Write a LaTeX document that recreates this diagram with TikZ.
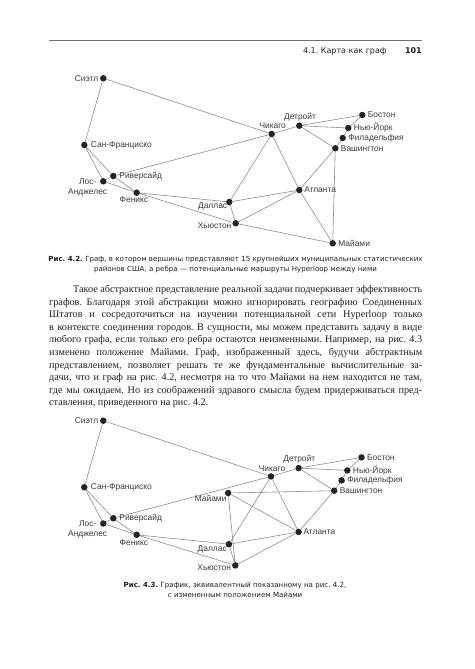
\documentclass[tikz,border=0pt]{standalone}
\usepackage{fontspec}
\setmainfont{Liberation Serif}
\setsansfont{Liberation Sans}
\newfontfamily\capfont{DejaVu Sans}
\usepackage{xcolor}
\definecolor{EdgeGrey}{HTML}{8C8C8C}
\definecolor{DotBlack}{HTML}{232323}
\definecolor{LabelInk}{HTML}{3A3A3A}
\definecolor{PageInk}{HTML}{1E1E1E}
\usetikzlibrary{positioning, backgrounds}
\frenchspacing
\tikzstyle{city} = [circle, fill=DotBlack, inner sep=0pt, minimum size=6.5pt]
\tikzstyle{cityname} = [font=\sffamily\fontsize{8.4}{9.4}\selectfont, text=LabelInk, inner sep=0.5pt]
\tikzstyle{edge} = [draw=EdgeGrey, line width=0.6pt]
\tikzstyle{caption} = [font=\capfont\fontsize{7.05}{9.6}\selectfont, text=PageInk, text width=420pt, align=center, inner sep=0pt]
\tikzstyle{para} = [font=\fontsize{10.2}{12.6}\selectfont, text=PageInk, text width=373pt, align=justify, inner sep=0pt]
\tikzstyle{runhead} = [font=\capfont\fontsize{8}{9}\selectfont, text=PageInk, inner sep=0pt]

\begin{document}
\begin{tikzpicture}[x=1pt, y=-1pt]
    \useasboundingbox (0,0) rectangle (474,669);

    % running head
    \draw [EdgeGrey!80!black, line width=0.7pt] (49,40) coordinate (ruleL) -- (422,40) coordinate (ruleR);
    \node [runhead, anchor=base east] (pageno) at (422,53.5) {\bfseries 101};
    \node [runhead, anchor=base east] (section) at (387,53.5) {4.1. Карта как граф};

    % figure 4.2
    \node [city] (sea1) at (103.3,78.3) {};
    \node [city] (sfo1) at (84.3,145) {};
    \node [city] (riv1) at (113.3,176) {};
    \node [city] (lax1) at (103.3,181.3) {};
    \node [city] (phx1) at (136.7,192.7) {};
    \node [city] (dal1) at (229.3,202) {};
    \node [city] (hou1) at (235.7,223.3) {};
    \node [city] (chi1) at (271.7,134) {};
    \node [city] (det1) at (299.3,125.7) {};
    \node [city] (bos1) at (362.3,115) {};
    \node [city] (nyc1) at (348.3,128) {};
    \node [city] (phl1) at (342.7,138) {};
    \node [city] (was1) at (335.3,148.3) {};
    \node [city] (atl1) at (299.3,190) {};
    \node [city] (mia1) at (332.7,243.3) {};

    \node [cityname, left=0.8pt of sea1] (sea1txt) {Сиэтл};
    \node [cityname, right=2.5pt of sfo1] (sfo1txt) {Сан-Франциско};
    \node [cityname, right=2pt of riv1] (riv1txt) {Риверсайд};
    \node [cityname, align=center] (lax1txt) at (87.7,187.3) {Лос-\\Анджелес};
    \node [cityname, below=0.3pt of phx1, xshift=-2.8pt] (phx1txt) {Феникс};
    \node [cityname, below left=-2pt and -1pt of dal1] (dal1txt) {Даллас};
    \node [cityname, left=0.2pt of hou1, yshift=-2.7pt] (hou1txt) {Хьюстон};
    \node [cityname, above=0.8pt of chi1, xshift=1pt] (chi1txt) {Чикаго};
    \node [cityname, above=0.8pt of det1, xshift=0.7pt] (det1txt) {Детройт};
    \node [cityname, right=1.5pt of bos1] (bos1txt) {Бостон};
    \node [cityname, right=1.5pt of nyc1] (nyc1txt) {Нью-Йорк};
    \node [cityname, right=1.5pt of phl1] (phl1txt) {Филадельфия};
    \node [cityname, right=1.5pt of was1] (was1txt) {Вашингтон};
    \node [cityname, right=0.8pt of atl1] (atl1txt) {Атланта};
    \node [cityname, right=1.5pt of mia1] (mia1txt) {Майами};

    \begin{scope}[on background layer]
        \draw [edge] (sea1) -- (chi1) (sea1) -- (sfo1) (sfo1) -- (riv1) (sfo1) -- (lax1)
            (lax1) -- (riv1) (lax1) -- (phx1) (riv1) -- (phx1) (riv1) -- (chi1)
            (phx1) -- (dal1) (phx1) -- (hou1) (dal1) -- (chi1) (dal1) -- (atl1)
            (dal1) -- (hou1) (hou1) -- (atl1) (hou1) -- (mia1) (atl1) -- (chi1)
            (atl1) -- (was1) (atl1) -- (mia1) (mia1) -- (was1) (chi1) -- (det1)
            (det1) -- (bos1) (det1) -- (was1) (det1) -- (nyc1) (bos1) -- (nyc1)
            (nyc1) -- (phl1) (phl1) -- (was1);
    \end{scope}

    \node [caption, anchor=base] (cap1) at (235.5,261.5) {\textbf{Рис. 4.2.} Граф, в котором вершины представляют 15 крупнейших муниципальных статистических\\районов США, а ребра — потенциальные маршруты Hyperloop между ними};

    % body text
    \node [para, anchor=base west] (body) at (49,292.5) {\hspace*{24pt}Такое абстрактное представление реальной задачи подчеркивает эффективность\linebreak
        графов. Благодаря этой абстракции можно игнорировать географию Соединенных\linebreak
        Штатов и сосредоточиться на изучении потенциальной сети Hyperloop только\linebreak
        в контексте соединения городов. В сущности, мы можем представить задачу в виде\linebreak
        любого графа, если только его ребра остаются неизменными. Например, на рис.~4.3\linebreak
        изменено положение Майами. Граф, изображенный здесь, будучи абстрактным\linebreak
        представлением, позволяет решать те же фундаментальные вычислительные за-\linebreak
        дачи, что и граф на рис.~4.2, несмотря на то что Майами на нем находится не там,\linebreak
        где мы ожидаем. Но из соображений здравого смысла будем придерживаться пред-\linebreak
        ставления, приведенного на рис.~4.2.};

    % figure 4.3
    \node [city] (sea2) at (103.3,420.7) {};
    \node [city] (sfo2) at (84.3,487.3) {};
    \node [city] (riv2) at (113.3,518.3) {};
    \node [city] (lax2) at (103.3,523.5) {};
    \node [city] (phx2) at (136.7,534.8) {};
    \node [city] (dal2) at (228.9,544.2) {};
    \node [city] (hou2) at (235.3,565.4) {};
    \node [city] (chi2) at (271,476.4) {};
    \node [city] (det2) at (298.6,468.1) {};
    \node [city] (bos2) at (361.5,457.4) {};
    \node [city] (nyc2) at (347.3,470.4) {};
    \node [city] (phl2) at (341.6,480.4) {};
    \node [city] (was2) at (334.2,490.7) {};
    \node [city] (atl2) at (298.6,531.9) {};
    \node [city] (mia2) at (228.1,493) {};

    \node [cityname, left=0.8pt of sea2] (sea2txt) {Сиэтл};
    \node [cityname, right=2.5pt of sfo2] (sfo2txt) {Сан-Франциско};
    \node [cityname, right=2pt of riv2] (riv2txt) {Риверсайд};
    \node [cityname, align=center] (lax2txt) at (87.7,529.5) {Лос-\\Анджелес};
    \node [cityname, below=0.3pt of phx2, xshift=-2.8pt] (phx2txt) {Феникс};
    \node [cityname, below left=-2pt and -1pt of dal2] (dal2txt) {Даллас};
    \node [cityname, left=0.2pt of hou2, yshift=-2.7pt] (hou2txt) {Хьюстон};
    \node [cityname, above=0.8pt of chi2, xshift=1pt] (chi2txt) {Чикаго};
    \node [cityname, above=0.8pt of det2, xshift=0.7pt] (det2txt) {Детройт};
    \node [cityname, right=1.5pt of bos2] (bos2txt) {Бостон};
    \node [cityname, right=1.5pt of nyc2] (nyc2txt) {Нью-Йорк};
    \node [cityname, right=1.5pt of phl2] (phl2txt) {Филадельфия};
    \node [cityname, right=1.5pt of was2] (was2txt) {Вашингтон};
    \node [cityname, right=0.8pt of atl2] (atl2txt) {Атланта};
    \node [cityname, below left=-0.5pt and -1.5pt of mia2] (mia2txt) {Майами};

    \begin{scope}[on background layer]
        \draw [edge] (sea2) -- (chi2) (sea2) -- (sfo2) (sfo2) -- (riv2) (sfo2) -- (lax2)
            (lax2) -- (riv2) (lax2) -- (phx2) (riv2) -- (phx2) (riv2) -- (chi2)
            (phx2) -- (dal2) (phx2) -- (hou2) (dal2) -- (chi2) (dal2) -- (atl2)
            (dal2) -- (hou2) (hou2) -- (atl2) (hou2) -- (mia2) (atl2) -- (chi2)
            (atl2) -- (was2) (atl2) -- (mia2) (mia2) -- (was2) (chi2) -- (det2)
            (det2) -- (bos2) (det2) -- (was2) (det2) -- (nyc2) (bos2) -- (nyc2)
            (nyc2) -- (phl2) (phl2) -- (was2);
    \end{scope}

    \node [caption, anchor=base] (cap2) at (235,587.5) {\textbf{Рис. 4.3.} График, эквивалентный показанному на рис. 4.2,\\с измененным положением Майами};
\end{tikzpicture}
\end{document}
